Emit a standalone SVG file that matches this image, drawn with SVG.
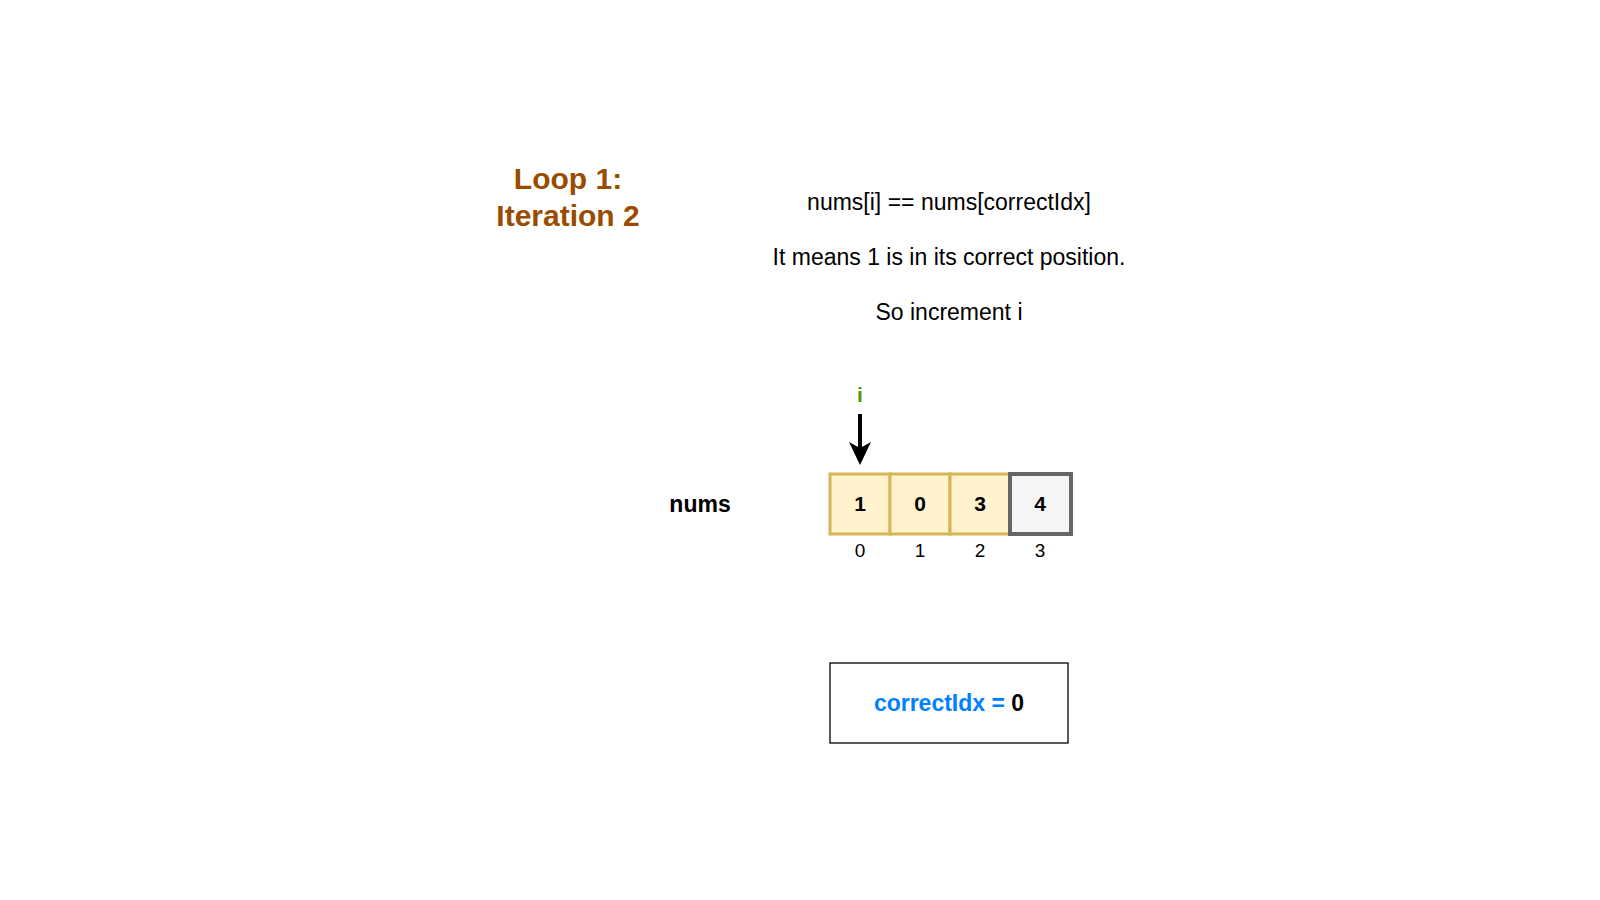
<svg xmlns="http://www.w3.org/2000/svg" width="1600" height="900" viewBox="0 0 1600 900">
<style>
text{font-family:"Liberation Sans",Arial,sans-serif;text-anchor:middle}
.cell{fill:#fff2cc;stroke:#d6b656;stroke-width:3}
.v{font-size:21px;font-weight:bold;fill:#000}
.idx{font-size:19px}
.t{font-size:23px}
</style>
<rect width="1600" height="900" fill="#fff"/>
<g id="title"><text x="568" y="189" font-size="30" font-weight="bold" fill="#994c00">Loop 1:</text><text x="568" y="226" font-size="30" font-weight="bold" fill="#994c00">Iteration 2</text></g>
<g id="desc"><text class="t" x="949" y="210">nums[i] == nums[correctIdx]</text><text class="t" x="949" y="265">It means 1 is in its correct position.</text><text class="t" x="949" y="320">So increment i</text></g>
<g id="label"><text x="700" y="512" font-size="23" font-weight="bold">nums</text></g>
<g id="c0"><rect class="cell" x="830" y="474" width="60" height="60"/><text class="v" x="860" y="511">1</text><text class="idx" x="860" y="557">0</text></g>
<g id="c1"><rect class="cell" x="890" y="474" width="60" height="60"/><text class="v" x="920" y="511">0</text><text class="idx" x="920" y="557">1</text></g>
<g id="c2"><rect class="cell" x="950" y="474" width="60" height="60"/><text class="v" x="980" y="511">3</text><text class="idx" x="980" y="557">2</text></g>
<g id="c3"><rect x="1010" y="474" width="61" height="60" fill="#f5f5f5" stroke="#666" stroke-width="4"/><text class="v" x="1040" y="511" fill="#333">4</text><text class="idx" x="1040" y="557">3</text></g>
<g id="i"><text x="860" y="402" font-size="21" font-weight="bold" fill="#4d9900">i</text></g>
<g id="connectors"><line x1="860" y1="414" x2="860" y2="448" stroke="#000" stroke-width="4"/><path d="M849,442 L860,448 L871,442 L860,465 Z" fill="#000"/></g>
<g id="box"><rect x="830" y="663" width="238" height="80" fill="#fff" stroke="#000" stroke-width="1.3"/><text x="949" y="711" font-size="23" font-weight="bold"><tspan fill="#007fff">correctIdx = </tspan><tspan fill="#000">0</tspan></text></g>
</svg>
